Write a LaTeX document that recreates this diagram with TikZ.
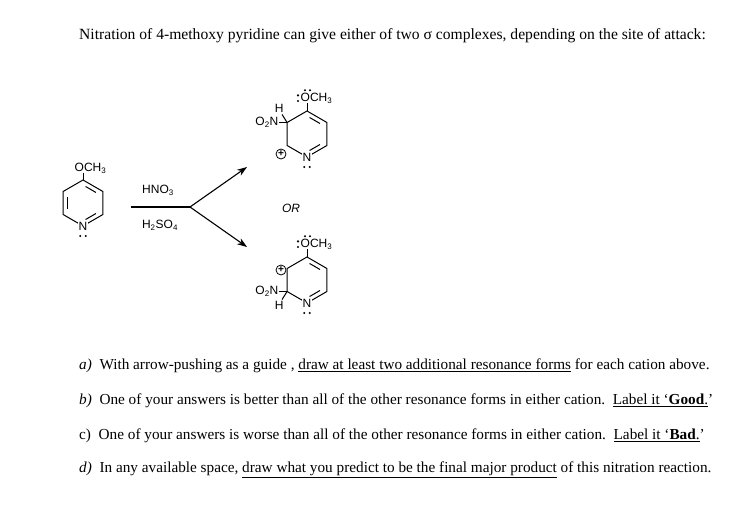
\documentclass[tikz,border=0pt]{standalone}
\usepackage{fontspec}
\setmainfont{Liberation Serif}
\newfontfamily\chem{Liberation Sans}
\usetikzlibrary{calc,arrows.meta}
\newcommand{\sub}[1]{\textsubscript{#1}}
\begin{document}
\begin{tikzpicture}[x=1pt,y=1pt,
  bond/.style={line width=1pt},
  lab/.style={font=\chem\fontsize{12}{12}\selectfont, inner sep=0.5pt},
  txt/.style={font=\fontsize{15.6}{17}\selectfont, anchor=west, inner sep=0pt},
  qtxt/.style={font=\fontsize{15.25}{17}\selectfont, anchor=west, inner sep=0pt},
  dot/.style={circle, fill=black, inner sep=0pt, minimum size=2.3pt},
  rxn/.style={line width=1.1pt},
  tip/.style={-{Stealth[length=10pt,width=7pt]}, line width=1.1pt}]
\useasboundingbox (0,0) rectangle (738,517);
\fill[white] (0,0) rectangle (738,517);
\newcommand{\ring}[2]{%
  \foreach \a [count=\i] in {90,30,-30,-90,-150,150} {\coordinate (#1v\i) at ($(#2)+(\a:23)$);}
  \draw[bond] (#1v1)--(#1v2)--(#1v3)--(#1v4)--(#1v5)--(#1v6)--cycle;
  \draw[bond,shorten <=3pt,shorten >=3pt] ($(#2)+(90:18)$)--($(#2)+(30:18)$);
  \draw[bond,shorten <=3pt,shorten >=3pt] ($(#2)+(-30:18)$)--($(#2)+(-90:18)$);
  \node[lab,fill=white,inner sep=1pt] (#1N) at (#1v4) {N};
  \node[dot] (#1d1) at ($(#1v4)+(-2.8,-10)$) {};
  \node[dot] (#1d2) at ($(#1v4)+(2.8,-10)$) {};
}
% title
\node[txt] (title) at (79,481) {Nitration of 4-methoxy pyridine can give either of two σ complexes, depending on the site of attack:};
% starting material
\coordinate (sc) at (83,314);
\ring{s}{sc}
\draw[bond,shorten <=3pt,shorten >=3pt] ($(sc)+(-150:18)$)--($(sc)+(150:18)$);
\draw[bond] (sv1) -- ++(0,7);
\node[lab,anchor=south west,xshift=-9pt] (sO) at ($(sv1)+(0,6)$) {OCH\sub{3}};
% arrows
\coordinate (a0) at (131,310);
\coordinate (aj) at (190,310);
\coordinate (au) at (247,350);
\coordinate (ad) at (247,270);
\draw[rxn] (a0)--(aj);
\draw[tip] (aj)--(au);
\draw[tip] (aj)--(ad);
\node[lab] (hno) at (158,327) {HNO\sub{3}};
\node[lab] (hso) at (160,292) {H\sub{2}SO\sub{4}};
\node[lab,font=\chem\itshape\fontsize{12}{12}\selectfont] (or) at (291,309) {OR};
% upper complex
\coordinate (uc) at (307,383);
\ring{u}{uc}
\draw[bond] (uv1) -- ++(0,8);
\node[lab,anchor=south west,xshift=-7pt] (uO) at ($(uv1)+(0,7)$) {OCH\sub{3}};
\node[dot] at ($(uO.north west)+(5,2)$) {};\node[dot] at ($(uO.north west)+(10,2)$) {};
\node[dot] at ($(uO.west)+(-2,2.8)$) {};\node[dot] at ($(uO.west)+(-2,-2.8)$) {};
\node[lab] (uH) at ($(uv6)+(-8,14)$) {H};
\draw[bond] (uv6) -- ($(uv6)+(-5,8)$);
\node[lab,anchor=east] (uNO) at ($(uv6)+(-8,0)$) {O\sub{2}N};
\draw[bond] (uv6) -- (uNO.east);
\node[lab,circle,draw,line width=0.8pt,inner sep=0pt,minimum size=10pt,font=\chem\bfseries\fontsize{10}{10}\selectfont] (up) at (281,363) {+};
% lower complex
\coordinate (lc) at (307,237);
\ring{l}{lc}
\draw[bond] (lv1) -- ++(0,8);
\node[lab,anchor=south west,xshift=-7pt] (lO) at ($(lv1)+(0,7)$) {OCH\sub{3}};
\node[dot] at ($(lO.north west)+(5,2)$) {};\node[dot] at ($(lO.north west)+(10,2)$) {};
\node[dot] at ($(lO.west)+(-2,2.8)$) {};\node[dot] at ($(lO.west)+(-2,-2.8)$) {};
\node[lab] (lH) at ($(lv5)+(-8,-14)$) {H};
\draw[bond] (lv5) -- ($(lv5)+(-5,-8)$);
\node[lab,anchor=east] (lNO) at ($(lv5)+(-8,0)$) {O\sub{2}N};
\draw[bond] (lv5) -- (lNO.east);
\node[lab,circle,draw,line width=0.8pt,inner sep=0pt,minimum size=10pt,font=\chem\bfseries\fontsize{10}{10}\selectfont] (lp) at (281,247) {+};
% questions
\node[qtxt] (qa) at (79,151) {\textit{a)}\ \ With arrow-pushing as a guide , \underline{draw at least two additional resonance forms} for each cation above.};
\node[qtxt] (qb) at (79,116) {\textit{b)}\ \ One of your answers is better than all of the other resonance forms in either cation.\ \ \underline{Label it `\textbf{Good}.}'};
\node[qtxt] (qc) at (79,81) {c)\ \ One of your answers is worse than all of the other resonance forms in either cation.\ \ \underline{Label it `\textbf{Bad}.}'};
\node[qtxt] (qd) at (79,47) {\textit{d)}\ \ In any available space, \underline{draw what you predict to be the final major product} of this nitration reaction.};
\end{tikzpicture}
\end{document}
